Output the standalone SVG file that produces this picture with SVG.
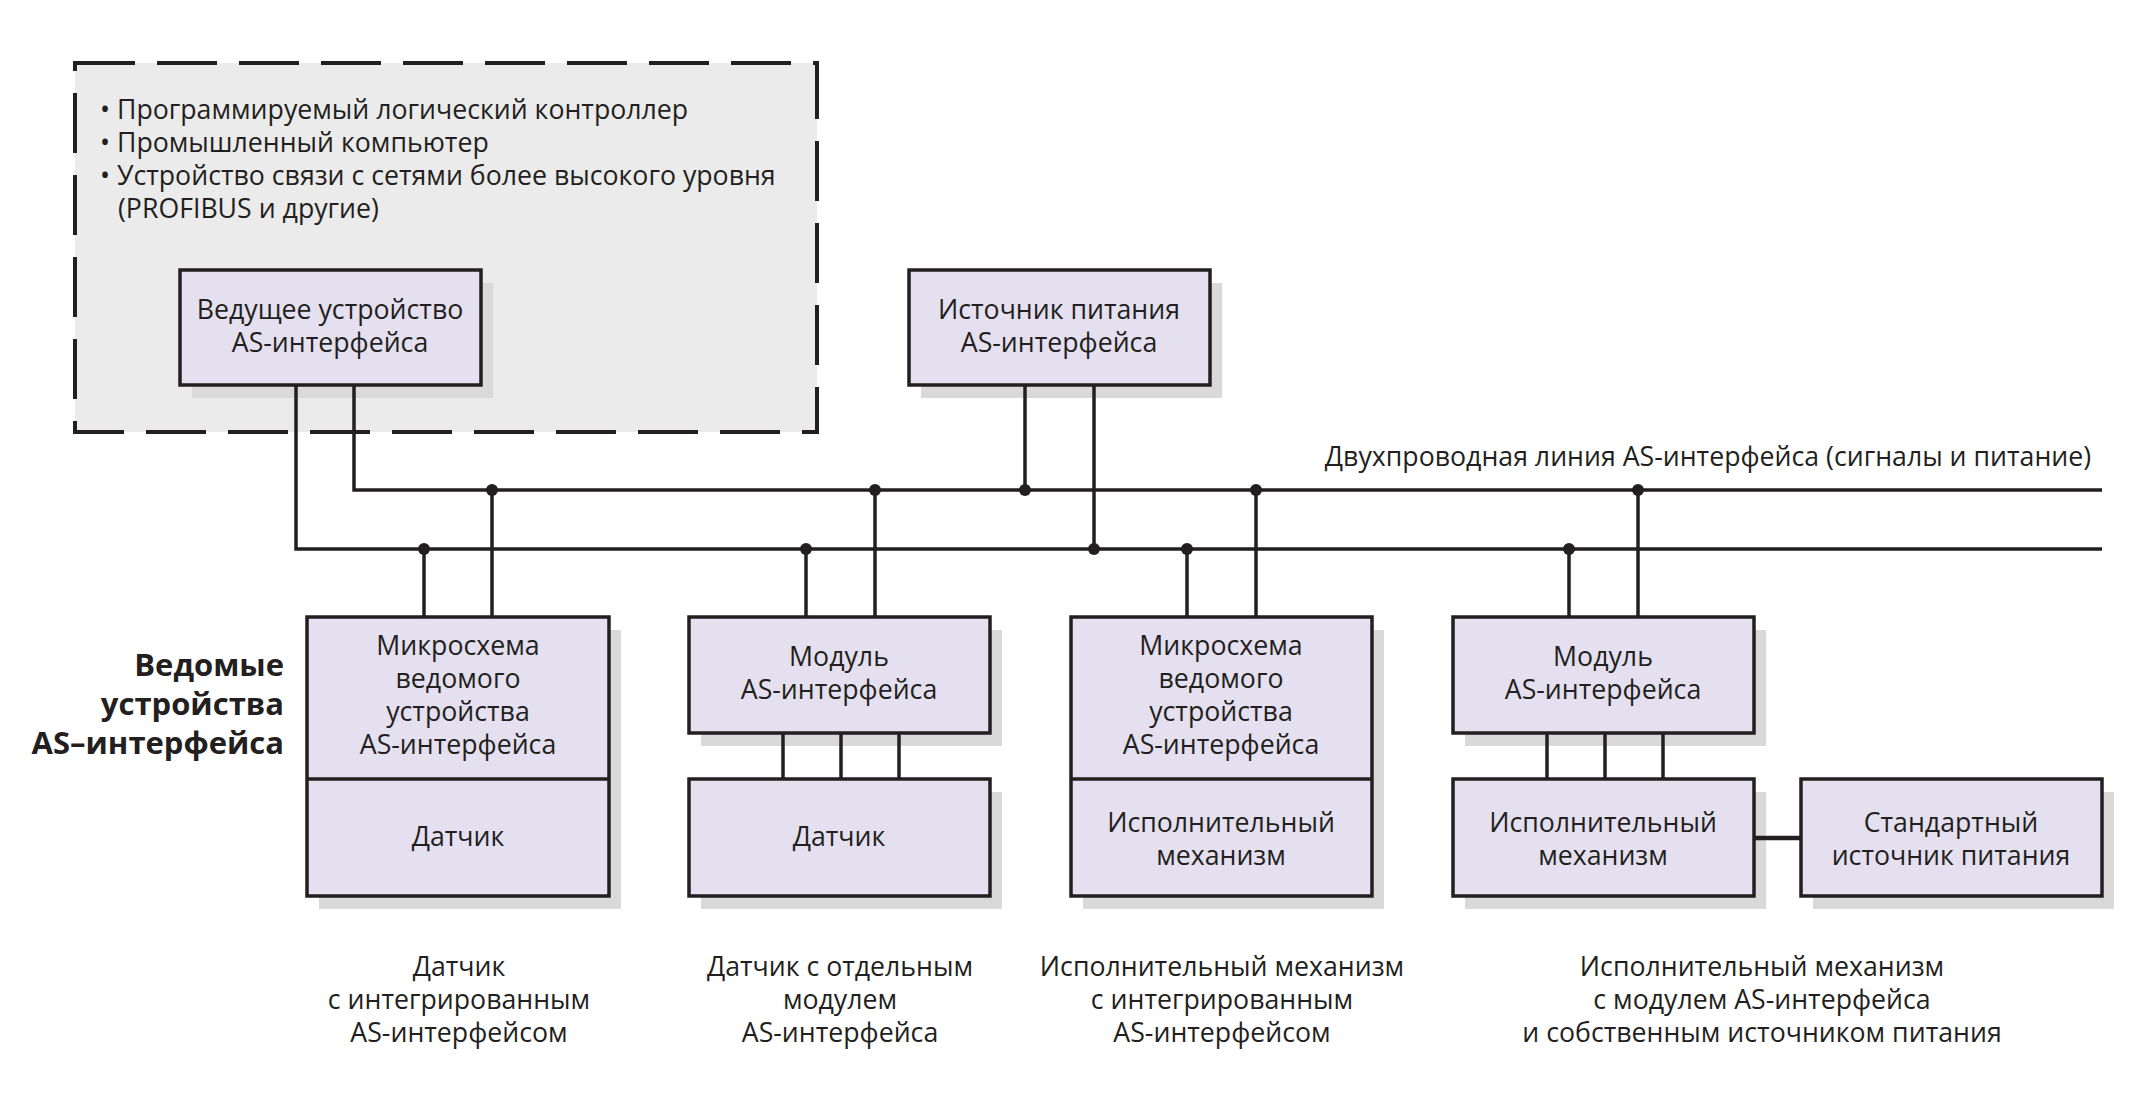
<svg xmlns="http://www.w3.org/2000/svg" width="2151" height="1119" viewBox="0 0 2151 1119">
<style>
.bg{fill:#ffffff}
.ctr{fill:#ebebeb;stroke:#231f20;stroke-width:4;stroke-dasharray:60 22}
.box{fill:#e5e0ef;stroke:#231f20;stroke-width:3.5}
.sh{fill:#d9d9d9}
.t{font-family:"Open Sans","Liberation Sans",sans-serif;font-size:26.7px;fill:#231f20;text-anchor:middle}
.l{text-anchor:start}
.b{font-family:"Open Sans","Liberation Sans",sans-serif;font-size:31px;font-weight:bold;fill:#231f20;text-anchor:end}
.w{stroke:#231f20;stroke-width:3.5;fill:none;stroke-linejoin:miter;stroke-linecap:butt}
.dot{fill:#231f20}
</style>
<rect class="bg" x="0" y="0" width="2151" height="1119"/>

<g id="controller-area">
  <rect class="ctr" x="75" y="63" width="742" height="369"/>
  <text class="t l" x="100" y="119">• Программируемый логический контроллер</text>
  <text class="t l" x="100" y="152">• Промышленный компьютер</text>
  <text class="t l" x="100" y="185">• Устройство связи с сетями более высокого уровня</text>
  <text class="t l" x="118" y="218">(PROFIBUS и другие)</text>
</g>

<g id="master">
  <rect class="sh" x="192" y="283" width="301" height="115"/>
  <rect class="box" x="180" y="270" width="301" height="115"/>
  <text class="t" x="330" y="319">Ведущее устройство</text>
  <text class="t" x="330" y="352">AS-интерфейса</text>
</g>

<g id="power-supply">
  <rect class="sh" x="921" y="283" width="301" height="115"/>
  <rect class="box" x="909" y="270" width="301" height="115"/>
  <text class="t" x="1059" y="319">Источник питания</text>
  <text class="t" x="1059" y="352">AS-интерфейса</text>
</g>

<g id="bus-label">
  <text class="t" x="1708" y="466">Двухпроводная линия AS-интерфейса (сигналы и питание)</text>
</g>

<g id="slaves-label">
  <text class="b" x="284" y="676">Ведомые</text>
  <text class="b" x="284" y="715">устройства</text>
  <text class="b" x="284" y="754">AS–интерфейса</text>
</g>

<g id="slave1">
  <rect class="sh" x="319" y="630" width="302" height="279"/>
  <rect class="box" x="307" y="617" width="302" height="279"/>
  <line class="w" x1="307" y1="779" x2="609" y2="779"/>
  <text class="t" x="458" y="655">Микросхема</text>
  <text class="t" x="458" y="688">ведомого</text>
  <text class="t" x="458" y="721">устройства</text>
  <text class="t" x="458" y="754">AS-интерфейса</text>
  <text class="t" x="458" y="846">Датчик</text>
</g>

<g id="slave2-module">
  <rect class="sh" x="701" y="630" width="301" height="116"/>
  <rect class="box" x="689" y="617" width="301" height="116"/>
  <text class="t" x="839" y="666">Модуль</text>
  <text class="t" x="839" y="699">AS-интерфейса</text>
</g>
<g id="slave2-sensor">
  <rect class="sh" x="701" y="792" width="301" height="117"/>
  <rect class="box" x="689" y="779" width="301" height="117"/>
  <text class="t" x="839" y="846">Датчик</text>
</g>

<g id="slave3">
  <rect class="sh" x="1083" y="630" width="301" height="279"/>
  <rect class="box" x="1071" y="617" width="301" height="279"/>
  <line class="w" x1="1071" y1="779" x2="1372" y2="779"/>
  <text class="t" x="1221" y="655">Микросхема</text>
  <text class="t" x="1221" y="688">ведомого</text>
  <text class="t" x="1221" y="721">устройства</text>
  <text class="t" x="1221" y="754">AS-интерфейса</text>
  <text class="t" x="1221" y="832">Исполнительный</text>
  <text class="t" x="1221" y="865">механизм</text>
</g>

<g id="slave4-module">
  <rect class="sh" x="1465" y="630" width="301" height="116"/>
  <rect class="box" x="1453" y="617" width="301" height="116"/>
  <text class="t" x="1603" y="666">Модуль</text>
  <text class="t" x="1603" y="699">AS-интерфейса</text>
</g>
<g id="slave4-actuator">
  <rect class="sh" x="1465" y="792" width="301" height="117"/>
  <rect class="box" x="1453" y="779" width="301" height="117"/>
  <text class="t" x="1603" y="832">Исполнительный</text>
  <text class="t" x="1603" y="865">механизм</text>
</g>
<g id="standard-power">
  <rect class="sh" x="1813" y="792" width="301" height="117"/>
  <rect class="box" x="1801" y="779" width="301" height="117"/>
  <text class="t" x="1951" y="832">Стандартный</text>
  <text class="t" x="1951" y="865">источник питания</text>
</g>

<g id="captions">
  <text class="t" x="459" y="976">Датчик</text>
  <text class="t" x="459" y="1009">с интегрированным</text>
  <text class="t" x="459" y="1042">AS-интерфейсом</text>
  <text class="t" x="840" y="976">Датчик с отдельным</text>
  <text class="t" x="840" y="1009">модулем</text>
  <text class="t" x="840" y="1042">AS-интерфейса</text>
  <text class="t" x="1222" y="976">Исполнительный механизм</text>
  <text class="t" x="1222" y="1009">с интегрированным</text>
  <text class="t" x="1222" y="1042">AS-интерфейсом</text>
  <text class="t" x="1762" y="976">Исполнительный механизм</text>
  <text class="t" x="1762" y="1009">с модулем AS-интерфейса</text>
  <text class="t" x="1762" y="1042">и собственным источником питания</text>
</g>

<g id="connectors">
  <path class="w" d="M296 385 V549 H2102"/>
  <path class="w" d="M354 385 V490 H2102"/>
  <path class="w" d="M1025 385 V490 M1094 385 V549"/>
  <path class="w" d="M424 549 V617 M492 490 V617"/>
  <path class="w" d="M806 549 V617 M875 490 V617"/>
  <path class="w" d="M1187 549 V617 M1256 490 V617"/>
  <path class="w" d="M1569 549 V617 M1638 490 V617"/>
  <path class="w" d="M783 733 V779 M841 733 V779 M899 733 V779"/>
  <path class="w" d="M1547 733 V779 M1605 733 V779 M1663 733 V779"/>
  <path class="w" d="M1753 838 H1801" style="stroke-width:4.5"/>
  <g class="dot">
    <circle cx="1025" cy="490" r="6"/>
    <circle cx="1094" cy="549" r="6"/>
    <circle cx="424" cy="549" r="6"/>
    <circle cx="492" cy="490" r="6"/>
    <circle cx="806" cy="549" r="6"/>
    <circle cx="875" cy="490" r="6"/>
    <circle cx="1187" cy="549" r="6"/>
    <circle cx="1256" cy="490" r="6"/>
    <circle cx="1569" cy="549" r="6"/>
    <circle cx="1638" cy="490" r="6"/>
  </g>
</g>
</svg>
